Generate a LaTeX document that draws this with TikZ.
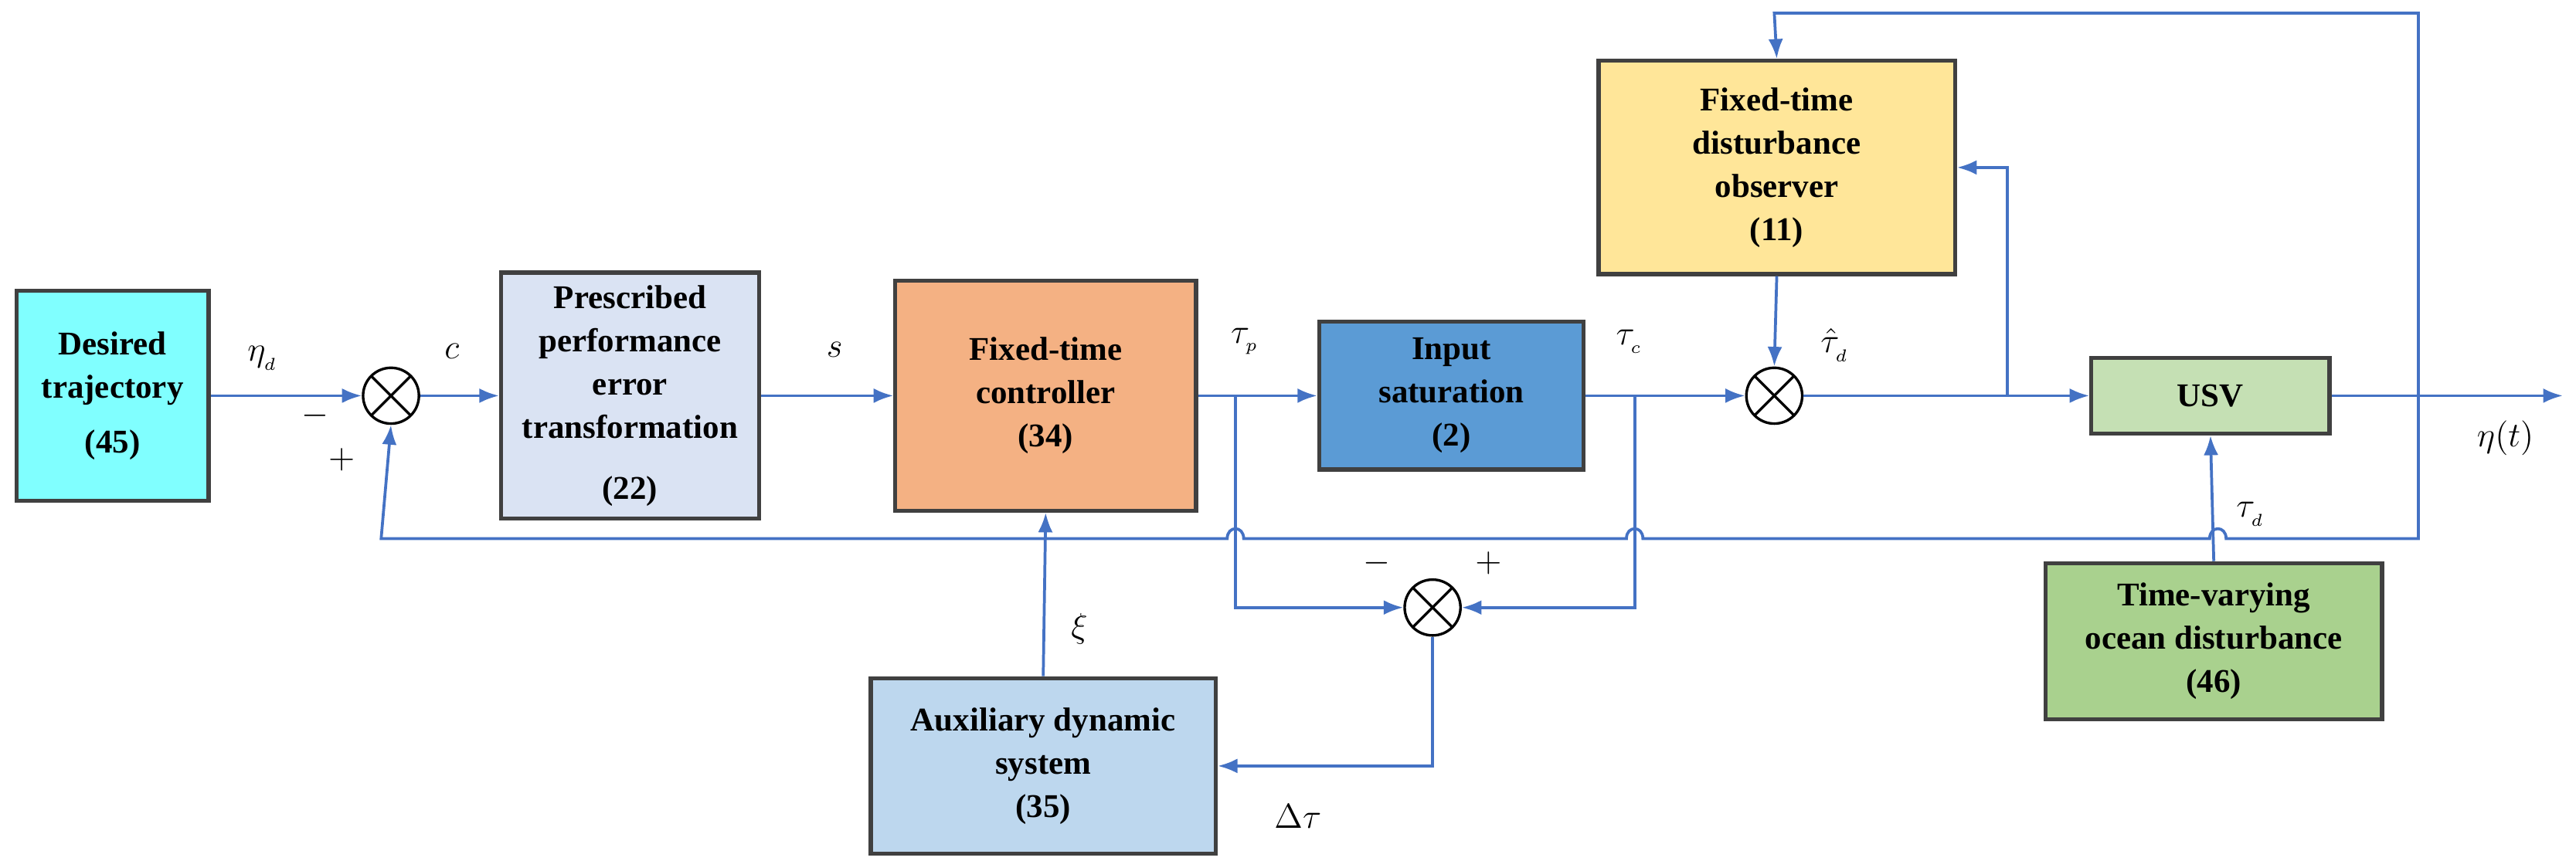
\documentclass[tikz,border=0pt]{standalone}
\usepackage{fontspec}
\setmainfont{Liberation Serif}
\usetikzlibrary{arrows.meta,calc}
\definecolor{ln}{HTML}{4472C4}
\definecolor{cdes}{HTML}{80FFFF}
\definecolor{cpre}{HTML}{DAE3F3}
\definecolor{cctl}{HTML}{F4B183}
\definecolor{csat}{HTML}{5B9BD5}
\definecolor{cobs}{HTML}{FFE699}
\definecolor{cusv}{HTML}{C5E0B4}
\definecolor{cdis}{HTML}{A9D18E}
\definecolor{caux}{HTML}{BDD7EE}
\begin{document}
\begin{tikzpicture}[x=0.02cm,y=-0.02cm,
  blk/.style={draw=black!75,line width=1.4pt,align=center,inner sep=2pt,
    font=\fontsize{11.5}{15}\selectfont\bfseries},
  sum/.style={circle,draw=black,line width=0.9pt,minimum size=0.68cm,inner sep=0pt,
    path picture={\draw[line width=0.9pt] (path picture bounding box.south west)--(path picture bounding box.north east)
      (path picture bounding box.north west)--(path picture bounding box.south east);}},
  sig/.style={draw=ln,line width=1pt},
  arr/.style={sig,-{Latex[length=0.24cm,width=0.18cm]}},
  lab/.style={font=\fontsize{12}{14}\selectfont}]
\useasboundingbox (0,0) rectangle (1568,524);

\node[blk,fill=cdes,minimum width=2.34cm,minimum height=2.56cm] (des) at (68.5,241) {Desired\\trajectory\\[4pt](45)};
\node[sum] (s1) at (238,241) {};
\node[blk,fill=cpre,minimum width=3.14cm,minimum height=3cm] (pre) at (383.5,241) {Prescribed\\performance\\error\\transformation\\[6pt](22)};
\node[blk,fill=cctl,minimum width=3.66cm,minimum height=2.8cm] (ctl) at (636.5,241) {Fixed-time\\controller\\(34)};
\node[blk,fill=csat,minimum width=3.22cm,minimum height=1.8cm] (sat) at (883.5,241) {Input\\saturation\\(2)};
\node[sum] (s2) at (1080,241) {};
\node[blk,fill=cobs,minimum width=4.34cm,minimum height=2.6cm] (obs) at (1081.5,102) {Fixed-time\\disturbance\\observer\\(11)};
\node[blk,fill=cusv,minimum width=2.9cm,minimum height=0.92cm] (usv) at (1345.5,241) {USV};
\node[blk,fill=cdis,minimum width=4.1cm,minimum height=1.9cm] (dis) at (1347.5,390.5) {Time-varying\\ocean disturbance\\(46)};
\node[blk,fill=caux,minimum width=4.2cm,minimum height=2.14cm] (aux) at (635,466.5) {Auxiliary dynamic\\system\\(35)};
\node[sum] (s3) at (872,370) {};

\coordinate (out) at (1560,241);
\coordinate (bp) at (752,241);
\coordinate (bc) at (995,241);
\coordinate (bo) at (1222,241);
\coordinate (br) at (1472,241);

\draw[arr] (des.east) -- (s1.west);
\draw[arr] (s1.east) -- (pre.west);
\draw[arr] (pre.east) -- (ctl.west);
\draw[arr] (ctl.east) -- (sat.west);
\draw[arr] (sat.east) -- (s2.west);
\draw[arr] (s2.east) -- (usv.west);
\draw[arr] (usv.east) -- (out);
\draw[arr] (obs.south) -- (s2.north);
\draw[arr] (bo) |- (obs.east);
\draw[arr] (br) |- (1080,8) -- (obs.north);
\draw[arr] (dis.north) -- (usv.south);
\draw[arr] (aux.north) -- (ctl.south);
\draw[arr] (bp) |- (s3.west);
\draw[arr] (bc) |- (s3.east);
\draw[arr] (s3.south) |- (aux.east);
% feedback with jumps
\draw[sig,-{Latex[length=0.24cm,width=0.18cm]}] (br) -- (1472,328) -- (1355,328)
  .. controls (1355,320) and (1345,320) .. (1345,328) -- (1000,328)
  .. controls (1000,320) and (990,320) .. (990,328) -- (757,328)
  .. controls (757,320) and (747,320) .. (747,328) -- (232,328) -- (s1.south);

\node[lab] at (160,218) {$\eta_{_d}$};
\node[lab] at (192,253) {$-$};
\node[lab] at (208,280) {$+$};
\node[lab] at (275,214) {$c$};
\node[lab] at (508,213) {$s$};
\node[lab] at (758,208) {$\tau_{_p}$};
\node[lab] at (992,208) {$\tau_{_c}$};
\node[lab] at (1117,210) {$\hat{\tau}_{_d}$};
\node[lab] at (1525,267) {$\eta(t)$};
\node[lab] at (1370,313) {$\tau_{_d}$};
\node[lab] at (838,343) {$-$};
\node[lab] at (906,343) {$+$};
\node[lab] at (657,383) {$\xi$};
\node[lab] at (790,497) {$\Delta\tau$};
\end{tikzpicture}
\end{document}
